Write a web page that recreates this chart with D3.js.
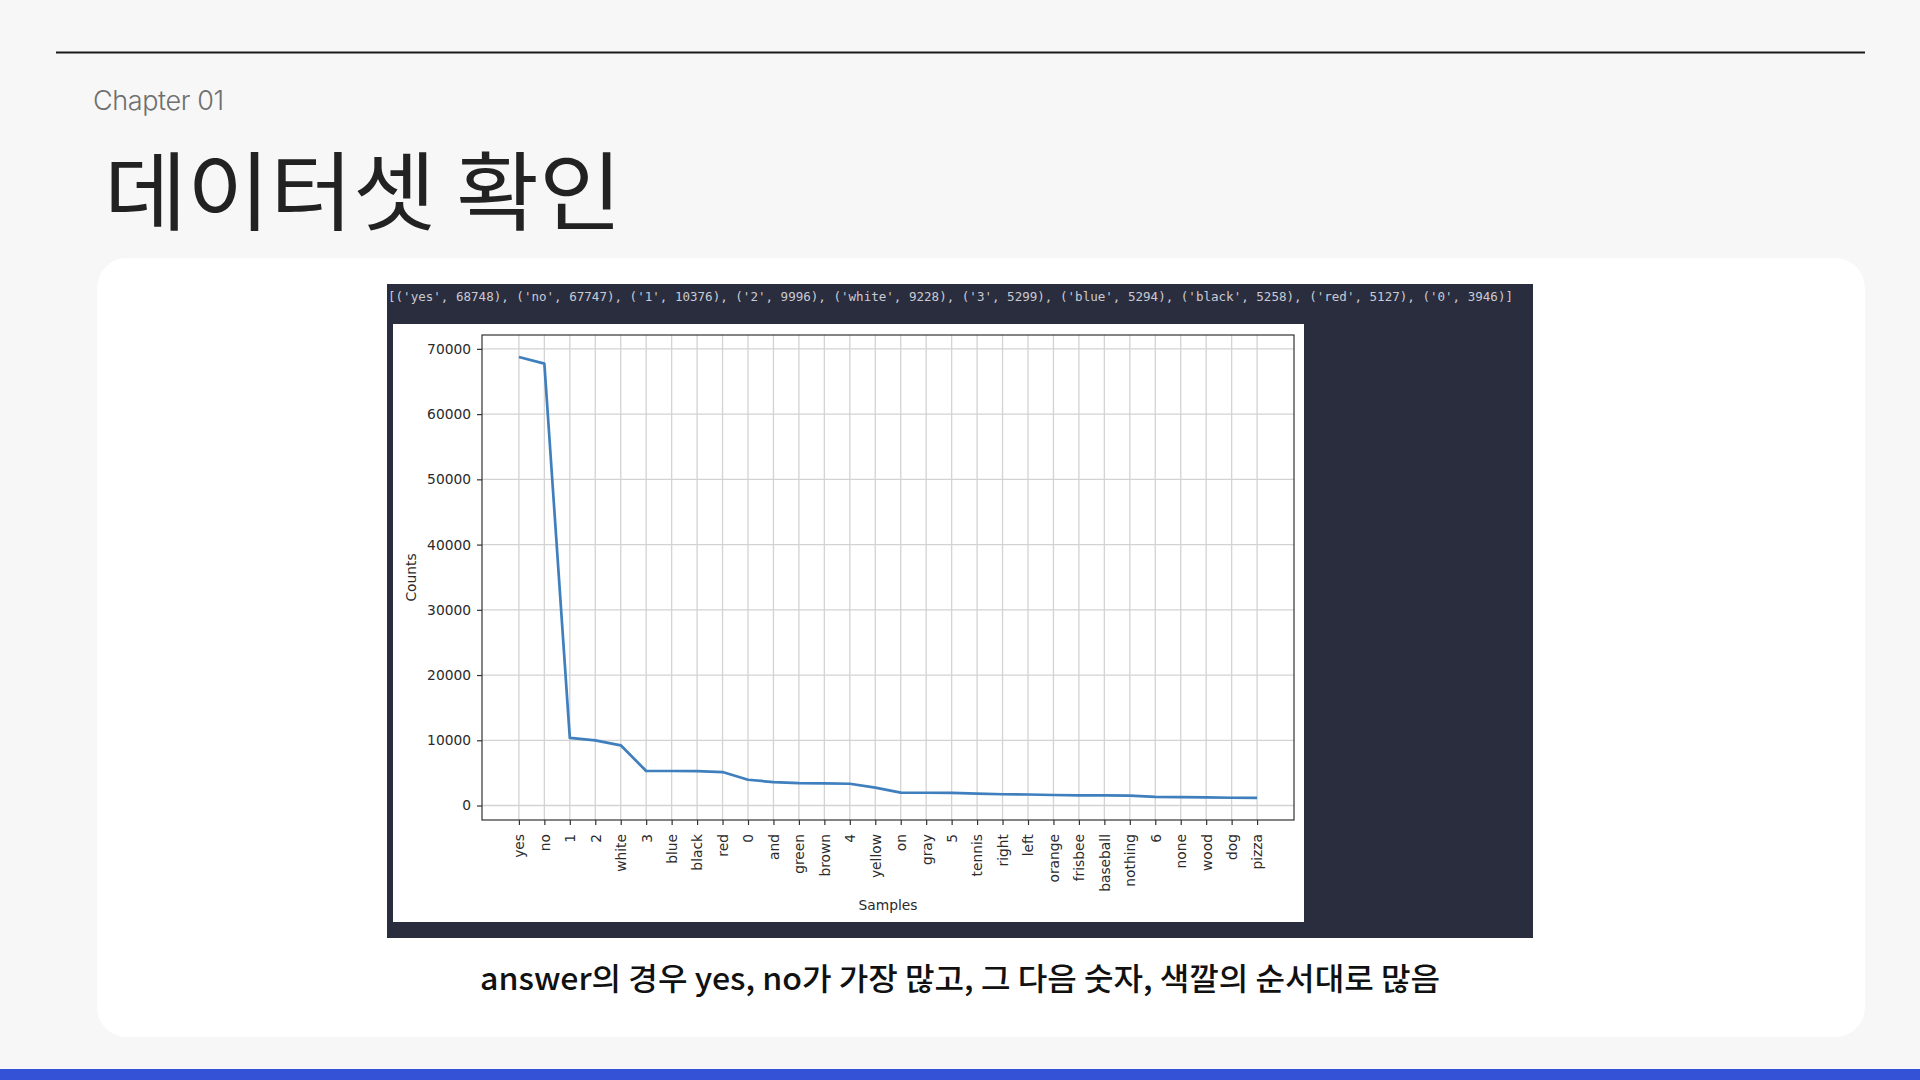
<!DOCTYPE html>
<html>
<head>
<meta charset="utf-8">
<script src="https://cdn.jsdelivr.net/npm/d3@7/dist/d3.min.js"></script>
<style>
  html, body { margin: 0; padding: 0; background: #f7f7f7; }
  svg { display: block; }
</style>
</head>
<body>
<svg id="slide" width="1920" height="1080"></svg>
<script>
// ---------- data ----------
const categories = ["yes","no","1","2","white","3","blue","black","red","0",
  "and","green","brown","4","yellow","on","gray","5","tennis","right",
  "left","orange","frisbee","baseball","nothing","6","none","wood","dog","pizza"];
const counts = [68748, 67747, 10376, 9996, 9228, 5299, 5294, 5258, 5127, 3946,
  3600, 3440, 3390, 3340, 2740, 1980, 1960, 1930, 1830, 1730,
  1690, 1610, 1570, 1550, 1530, 1340, 1290, 1240, 1190, 1160];
const yTicks = [0, 10000, 20000, 30000, 40000, 50000, 60000, 70000];
const topN = 10;

const chapterText = "Chapter 01";
const titleText = "데이터셋 확인";
const captionText = "answer의 경우 yes, no가 가장 많고, 그 다음 숫자, 색깔의 순서대로 많음";
const xLabel = "Samples";
const yLabel = "Counts";

// ---------- slide ----------
const svg = d3.select("#slide");
svg.append("rect").attr("width", 1920).attr("height", 1080).attr("fill", "#f7f7f7");
svg.append("line").attr("x1", 56).attr("x2", 1865).attr("y1", 52.5).attr("y2", 52.5)
  .attr("stroke", "#1a1a1a").attr("stroke-width", 2);
svg.append("text").attr("x", 93).attr("y", 110).text(chapterText)
  .attr("font-family", "Inter, 'Noto Sans', sans-serif").attr("font-size", 27)
  .attr("font-weight", 300).attr("fill", "#6f6f6f").attr("letter-spacing", -0.4);
svg.append("text").attr("x", 104).attr("y", 224).text(titleText)
  .attr("font-family", "'Noto Sans CJK KR', sans-serif").attr("font-size", 86)
  .attr("font-weight", 400).attr("fill", "#222")
  .attr("textLength", 518).attr("lengthAdjust", "spacingAndGlyphs");
svg.append("rect").attr("x", 97).attr("y", 258).attr("width", 1768).attr("height", 779)
  .attr("rx", 30).attr("fill", "#ffffff");
svg.append("rect").attr("x", 0).attr("y", 1069).attr("width", 1920).attr("height", 11)
  .attr("fill", "#3452d6");
svg.append("text").attr("x", 480).attr("y", 990).text(captionText)
  .attr("font-family", "'Noto Sans CJK KR', sans-serif").attr("font-size", 31)
  .attr("font-weight", 500).attr("fill", "#111")
  .attr("textLength", 960).attr("lengthAdjust", "spacingAndGlyphs");

// ---------- screenshot panel ----------
svg.append("rect").attr("x", 387).attr("y", 284).attr("width", 1146).attr("height", 654)
  .attr("fill", "#2a2d3e");
const header = "[" + categories.slice(0, topN).map((c, i) => `('${c}', ${counts[i]})`).join(", ") + "]";
svg.append("text").attr("x", 388).attr("y", 301).text(header)
  .attr("font-family", "'DejaVu Sans Mono', monospace").attr("font-size", 12.5)
  .attr("fill", "#c9cad3").attr("textLength", 1125).attr("lengthAdjust", "spacingAndGlyphs");
svg.append("rect").attr("x", 393).attr("y", 324).attr("width", 911).attr("height", 598)
  .attr("fill", "#ffffff");

// ---------- plot ----------
const box = { left: 482, right: 1294, top: 335, bottom: 820 };
const x = d3.scalePoint().domain(categories).range([box.left, box.right]).padding(1.45);
const yMin = d3.min(counts), yMax = d3.max(counts), span = yMax - yMin;
const y = d3.scaleLinear().domain([yMin - 0.05 * span, yMax + 0.05 * span])
  .range([box.bottom, box.top]);

const g = svg.append("g");
const fontTick = "'DejaVu Sans', sans-serif";

// grid
g.append("g").selectAll("line").data(categories).join("line")
  .attr("x1", d => x(d)).attr("x2", d => x(d)).attr("y1", box.top).attr("y2", box.bottom)
  .attr("stroke", "#d3d3d3").attr("stroke-width", 1.3);
g.append("g").selectAll("line").data(yTicks).join("line")
  .attr("x1", box.left).attr("x2", box.right).attr("y1", d => y(d)).attr("y2", d => y(d))
  .attr("stroke", "#d3d3d3").attr("stroke-width", 1.3);

// axes
const yAxis = g.append("g").attr("transform", `translate(${box.left},0)`)
  .call(d3.axisLeft(y).tickValues(yTicks).tickFormat(d3.format("d")).tickSize(5).tickPadding(6));
const xAxis = g.append("g").attr("transform", `translate(0,${box.bottom})`)
  .call(d3.axisBottom(x).tickSize(5).tickPadding(8));
[yAxis, xAxis].forEach(a => {
  a.select(".domain").remove();
  a.selectAll(".tick line").attr("stroke", "#333").attr("stroke-width", 1.2);
  a.selectAll(".tick text").attr("font-family", fontTick).attr("font-size", 13.8).attr("fill", "#2b2b2b");
});
xAxis.selectAll(".tick text")
  .attr("transform", "rotate(-90)")
  .attr("text-anchor", "end")
  .attr("x", -14).attr("y", 0).attr("dy", "0.35em");

// frame
g.append("rect").attr("x", box.left).attr("y", box.top)
  .attr("width", box.right - box.left).attr("height", box.bottom - box.top)
  .attr("fill", "none").attr("stroke", "#333").attr("stroke-width", 1.2);

// line
g.append("path").datum(categories.map((c, i) => [c, counts[i]]))
  .attr("d", d3.line().x(d => x(d[0])).y(d => y(d[1])))
  .attr("fill", "none").attr("stroke", "#3f7fbd").attr("stroke-width", 2.7)
  .attr("stroke-linejoin", "round");

// labels
g.append("text").attr("x", (box.left + box.right) / 2).attr("y", 910).attr("text-anchor", "middle")
  .text(xLabel).attr("font-family", fontTick).attr("font-size", 13.8).attr("fill", "#2b2b2b");
g.append("text").attr("transform", `translate(416,${(box.top + box.bottom) / 2}) rotate(-90)`)
  .attr("text-anchor", "middle").text(yLabel)
  .attr("font-family", fontTick).attr("font-size", 13.8).attr("fill", "#2b2b2b");
</script>
</body>
</html>
